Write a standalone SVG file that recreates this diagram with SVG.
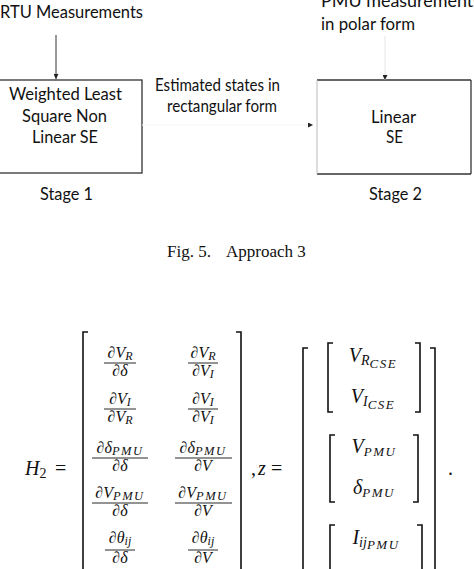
<svg xmlns="http://www.w3.org/2000/svg" width="474" height="569" viewBox="0 0 474 569">
<defs>
<style>
.fc{font-family:Lato,"Liberation Sans",sans-serif;font-size:17px;fill:#111}
.cap{font-family:"Liberation Serif",serif;font-size:17px;fill:#111}
.m{font-family:"Liberation Serif",serif;font-style:italic;font-size:16px;fill:#111}
.mz{font-family:"Liberation Serif",serif;font-style:italic;font-size:20px;fill:#111}
.up{font-style:normal}
.s{font-size:12.5px;letter-spacing:1.5px}
.s1{font-size:12px}
.ss{font-size:13px;letter-spacing:1.5px}
.sb{font-size:14px}
.box{fill:none;stroke:#333;stroke-width:1.3}
.br{fill:none;stroke:#111;stroke-width:1.6}
.bar{stroke:#111;stroke-width:0.9}
.ln{stroke:#333;stroke-width:1}
</style>
<marker id="ah" viewBox="0 0 10 10" refX="10" refY="5" markerWidth="5" markerHeight="5" orient="auto" markerUnits="userSpaceOnUse">
<path d="M0,0 L10,5 L0,10 z" fill="#222"/>
</marker>
</defs>
<rect width="474" height="569" fill="#fff"/>

<g id="rtu">
<text class="fc" x="0" y="18" textLength="143" lengthAdjust="spacingAndGlyphs">RTU Measurements</text>
</g>
<g id="pmu">
<text class="fc" x="321" y="7" textLength="160" lengthAdjust="spacingAndGlyphs">PMU measurements</text>
<text class="fc" x="321" y="30" textLength="94" lengthAdjust="spacingAndGlyphs">in polar form</text>
</g>
<g id="stage1">
<rect class="box" x="-10" y="80" width="152" height="93"/>
<text class="fc" x="9" y="100" textLength="113" lengthAdjust="spacingAndGlyphs">Weighted Least</text>
<text class="fc" x="22" y="122" textLength="85" lengthAdjust="spacingAndGlyphs">Square Non</text>
<text class="fc" x="32" y="143" textLength="66" lengthAdjust="spacingAndGlyphs">Linear SE</text>
<text class="fc" x="40" y="200" textLength="53" lengthAdjust="spacingAndGlyphs">Stage 1</text>
</g>
<g id="stage2">
<line x1="317" y1="80" x2="471" y2="80" stroke="#333" stroke-width="1.3"/>
<line x1="471" y1="80" x2="471" y2="174" stroke="#333" stroke-width="1.3"/>
<line x1="317" y1="174" x2="471" y2="174" stroke="#333" stroke-width="1.3"/>
<line x1="317" y1="80" x2="317" y2="174" stroke="#bbb" stroke-width="1"/>
<text class="fc" x="371" y="123" textLength="45" lengthAdjust="spacingAndGlyphs">Linear</text>
<text class="fc" x="386" y="143" textLength="17" lengthAdjust="spacingAndGlyphs">SE</text>
<text class="fc" x="369" y="200" textLength="53" lengthAdjust="spacingAndGlyphs">Stage 2</text>
</g>
<g id="edge-label">
<text class="fc" x="155" y="91" textLength="125" lengthAdjust="spacingAndGlyphs">Estimated states in</text>
<text class="fc" x="167" y="112" textLength="110" lengthAdjust="spacingAndGlyphs">rectangular form</text>
</g>
<g id="connectors">
<line class="ln" x1="56" y1="35" x2="56" y2="79" marker-end="url(#ah)"/>
<line x1="385" y1="36" x2="385" y2="80" stroke="#e6e6e6" stroke-width="1" marker-end="url(#ah)"/>
<line x1="142" y1="125" x2="313" y2="125" stroke="#f6f6f6" stroke-width="1" marker-end="url(#ah)"/>
</g>

<g id="caption">
<text class="cap" x="167" y="257">Fig. 5.</text>
<text class="cap" x="226" y="257">Approach 3</text>
</g>

<g id="H2">
<text class="mz" x="25" y="475">H<tspan class="up sb" dy="3">2</tspan></text>
<text class="mz up" x="55" y="475" font-size="21">=</text>
<path class="br" d="M88,332 H83 V580"/>
<path class="br" d="M236,332 H241 V580"/>
<g id="r1">
<text class="m" x="120" y="358" text-anchor="middle">∂V<tspan class="s1" dy="2">R</tspan></text>
<line class="bar" x1="104" y1="363" x2="136" y2="363"/>
<text class="m" x="120" y="376" text-anchor="middle">∂δ</text>
<text class="m" x="203" y="358" text-anchor="middle">∂V<tspan class="s1" dy="2">R</tspan></text>
<line class="bar" x1="188" y1="363" x2="218" y2="363"/>
<text class="m" x="203" y="376" text-anchor="middle">∂V<tspan class="s1" dy="2">I</tspan></text>
</g>
<g id="r2">
<text class="m" x="120" y="404" text-anchor="middle">∂V<tspan class="s1" dy="2">I</tspan></text>
<line class="bar" x1="104" y1="409" x2="136" y2="409"/>
<text class="m" x="120" y="422" text-anchor="middle">∂V<tspan class="s1" dy="2">R</tspan></text>
<text class="m" x="203" y="404" text-anchor="middle">∂V<tspan class="s1" dy="2">I</tspan></text>
<line class="bar" x1="188" y1="409" x2="218" y2="409"/>
<text class="m" x="203" y="422" text-anchor="middle">∂V<tspan class="s1" dy="2">I</tspan></text>
</g>
<g id="r3">
<text class="m" x="120" y="453" text-anchor="middle">∂δ<tspan class="s" dy="2">PMU</tspan></text>
<line class="bar" x1="92" y1="458" x2="148" y2="458"/>
<text class="m" x="120" y="471" text-anchor="middle">∂δ</text>
<text class="m" x="203" y="453" text-anchor="middle">∂δ<tspan class="s" dy="2">PMU</tspan></text>
<line class="bar" x1="175" y1="458" x2="232" y2="458"/>
<text class="m" x="203" y="471" text-anchor="middle">∂V</text>
</g>
<g id="r4">
<text class="m" x="120" y="498" text-anchor="middle">∂V<tspan class="s" dy="2">PMU</tspan></text>
<line class="bar" x1="92" y1="503" x2="148" y2="503"/>
<text class="m" x="120" y="516" text-anchor="middle">∂δ</text>
<text class="m" x="203" y="498" text-anchor="middle">∂V<tspan class="s" dy="2">PMU</tspan></text>
<line class="bar" x1="175" y1="503" x2="232" y2="503"/>
<text class="m" x="203" y="516" text-anchor="middle">∂V</text>
</g>
<g id="r5">
<text class="m" x="120" y="543" text-anchor="middle">∂θ<tspan class="s1" dy="2">ij</tspan></text>
<line class="bar" x1="105" y1="550" x2="135" y2="550"/>
<text class="m" x="120" y="563" text-anchor="middle">∂δ</text>
<text class="m" x="203" y="543" text-anchor="middle">∂θ<tspan class="s1" dy="2">ij</tspan></text>
<line class="bar" x1="188" y1="550" x2="218" y2="550"/>
<text class="m" x="203" y="563" text-anchor="middle">∂V</text>
</g>
</g>

<g id="z">
<text class="mz up" x="251" y="475">,</text>
<text class="mz" x="258" y="475">z</text>
<text class="mz up" x="271" y="475" font-size="21">=</text>
<path class="br" d="M308,348 H303 V580"/>
<path class="br" d="M430,348 H435 V580"/>
<path class="br" d="M333,343 H328 V412 H333"/>
<path class="br" d="M415,343 H420 V412 H415"/>
<text class="mz" x="373" y="362" text-anchor="middle">V<tspan class="sb" dy="3">R</tspan><tspan class="ss" dy="3">CSE</tspan></text>
<text class="mz" x="373" y="403" text-anchor="middle">V<tspan class="sb" dy="3">I</tspan><tspan class="ss" dy="3">CSE</tspan></text>
<path class="br" d="M335,435 H330 V502 H335"/>
<path class="br" d="M413,435 H418 V502 H413"/>
<text class="mz" x="374" y="453" text-anchor="middle">V<tspan class="ss" dy="3">PMU</tspan></text>
<text class="mz" x="374" y="494" text-anchor="middle">δ<tspan class="ss" dy="3">PMU</tspan></text>
<path class="br" d="M335,525 H330 V580"/>
<path class="br" d="M417,525 H422 V580"/>
<text class="mz" x="376" y="544" text-anchor="middle">I<tspan class="sb" dy="3">ij</tspan><tspan class="ss" dy="2">PMU</tspan></text>
<text class="mz up" x="448" y="475">.</text>
</g>
</svg>
